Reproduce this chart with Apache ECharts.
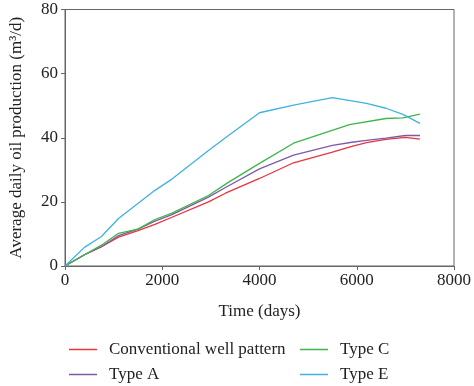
<!DOCTYPE html>
<html><head><meta charset="utf-8">
<script src="https://cdn.jsdelivr.net/npm/echarts@6/dist/echarts.min.js"></script>
<style>html,body{margin:0;padding:0;background:#fff}#c{width:474px;height:386px}</style>
</head><body><div id="c"></div>
<script>
var seriesNames = ['Conventional well pattern', 'Type A', 'Type C', 'Type E'];
var conventional = [[0,0],[400,3.5],[750,6],[1100,9],[1500,11],[1850,13],[2200,15.2],[2950,20],[3300,22.7],[4000,27.3],[4700,32.2],[5500,35.5],[5900,37.3],[6200,38.5],[6600,39.5],[7000,40.1],[7300,39.6]];
var typeA = [[0,0],[400,3.5],[750,6],[1100,9.5],[1500,11.5],[1850,14],[2200,16],[2950,21.5],[3300,24.5],[4000,30.3],[4700,34.6],[5500,37.6],[5900,38.6],[6200,39.2],[6600,39.9],[7000,40.7],[7300,40.7]];
var typeC = [[0,0],[400,3.5],[750,6.5],[1100,10.2],[1500,11.5],[1850,14.5],[2200,16.5],[2950,22],[3350,26],[4000,32],[4700,38.3],[5850,44.1],[6600,46],[6950,46.2],[7300,47.4]];
var typeE = [[0,0],[400,5.8],[750,9.2],[1100,14.8],[1850,23.6],[2200,27.1],[2950,36],[3300,40],[4000,47.8],[4700,50.2],[5500,52.5],[6200,50.7],[6600,49.2],[6950,47.3],[7300,44.5]];
var xTicks = [0, 2000, 4000, 6000, 8000];
var yTicks = [0, 20, 40, 60, 80];
var colors = ['#e8343e', '#7d5aa6', '#3db54a', '#3fb2e0'];
var font = 'Liberation Serif';
var chart = echarts.init(document.getElementById('c'));
function mk(name, data, i) {
  return {name: name, type: 'line', data: data, showSymbol: false, symbol: 'none',
    lineStyle: {color: colors[i], width: 1.3}, itemStyle: {color: colors[i]}, animation: false};
}
var legText = {fontFamily: font, fontSize: 17, color: '#222', padding: [0, 0, 0, 7]};
chart.setOption({
  animation: false,
  grid: {left: 65, right: 15, top: 9.5, bottom: 120, show: true, borderColor: '#666', borderWidth: 1},
  xAxis: {type: 'value', min: xTicks[0], max: xTicks[xTicks.length-1], interval: 2000,
    name: 'Time (days)', nameLocation: 'middle', nameGap: 37,
    nameTextStyle: {fontFamily: font, fontSize: 17, color: '#222'},
    axisLine: {show: true, lineStyle: {color: '#666'}},
    axisTick: {show: true, inside: false, length: 4, lineStyle: {color: '#666'}},
    axisLabel: {fontFamily: font, fontSize: 17, color: '#222', margin: 6, formatter: function (v) { return String(v); }},
    splitLine: {show: false}},
  yAxis: {type: 'value', min: yTicks[0], max: yTicks[yTicks.length-1], interval: 20,
    name: 'Average daily oil production (m\u00b3/d)', nameLocation: 'middle', nameGap: 40,
    nameTextStyle: {fontFamily: font, fontSize: 17, color: '#222'},
    axisLine: {show: true, lineStyle: {color: '#666'}},
    axisTick: {show: true, inside: false, length: 4, lineStyle: {color: '#666'}},
    axisLabel: {fontFamily: font, fontSize: 17, color: '#222', margin: 7},
    splitLine: {show: false}},
  legend: [
    {data: [seriesNames[0], seriesNames[1]], orient: 'vertical', left: 69, top: 341, height: 45, padding: 0, itemGap: 8,
     icon: 'rect', itemWidth: 28, itemHeight: 1.5, textStyle: legText},
    {data: [seriesNames[2], seriesNames[3]], orient: 'vertical', left: 300, top: 341, height: 45, padding: 0, itemGap: 8,
     icon: 'rect', itemWidth: 28, itemHeight: 1.5, textStyle: legText}
  ],
  series: [mk(seriesNames[0], conventional, 0), mk(seriesNames[1], typeA, 1), mk(seriesNames[2], typeC, 2), mk(seriesNames[3], typeE, 3)]
});
</script></body></html>
